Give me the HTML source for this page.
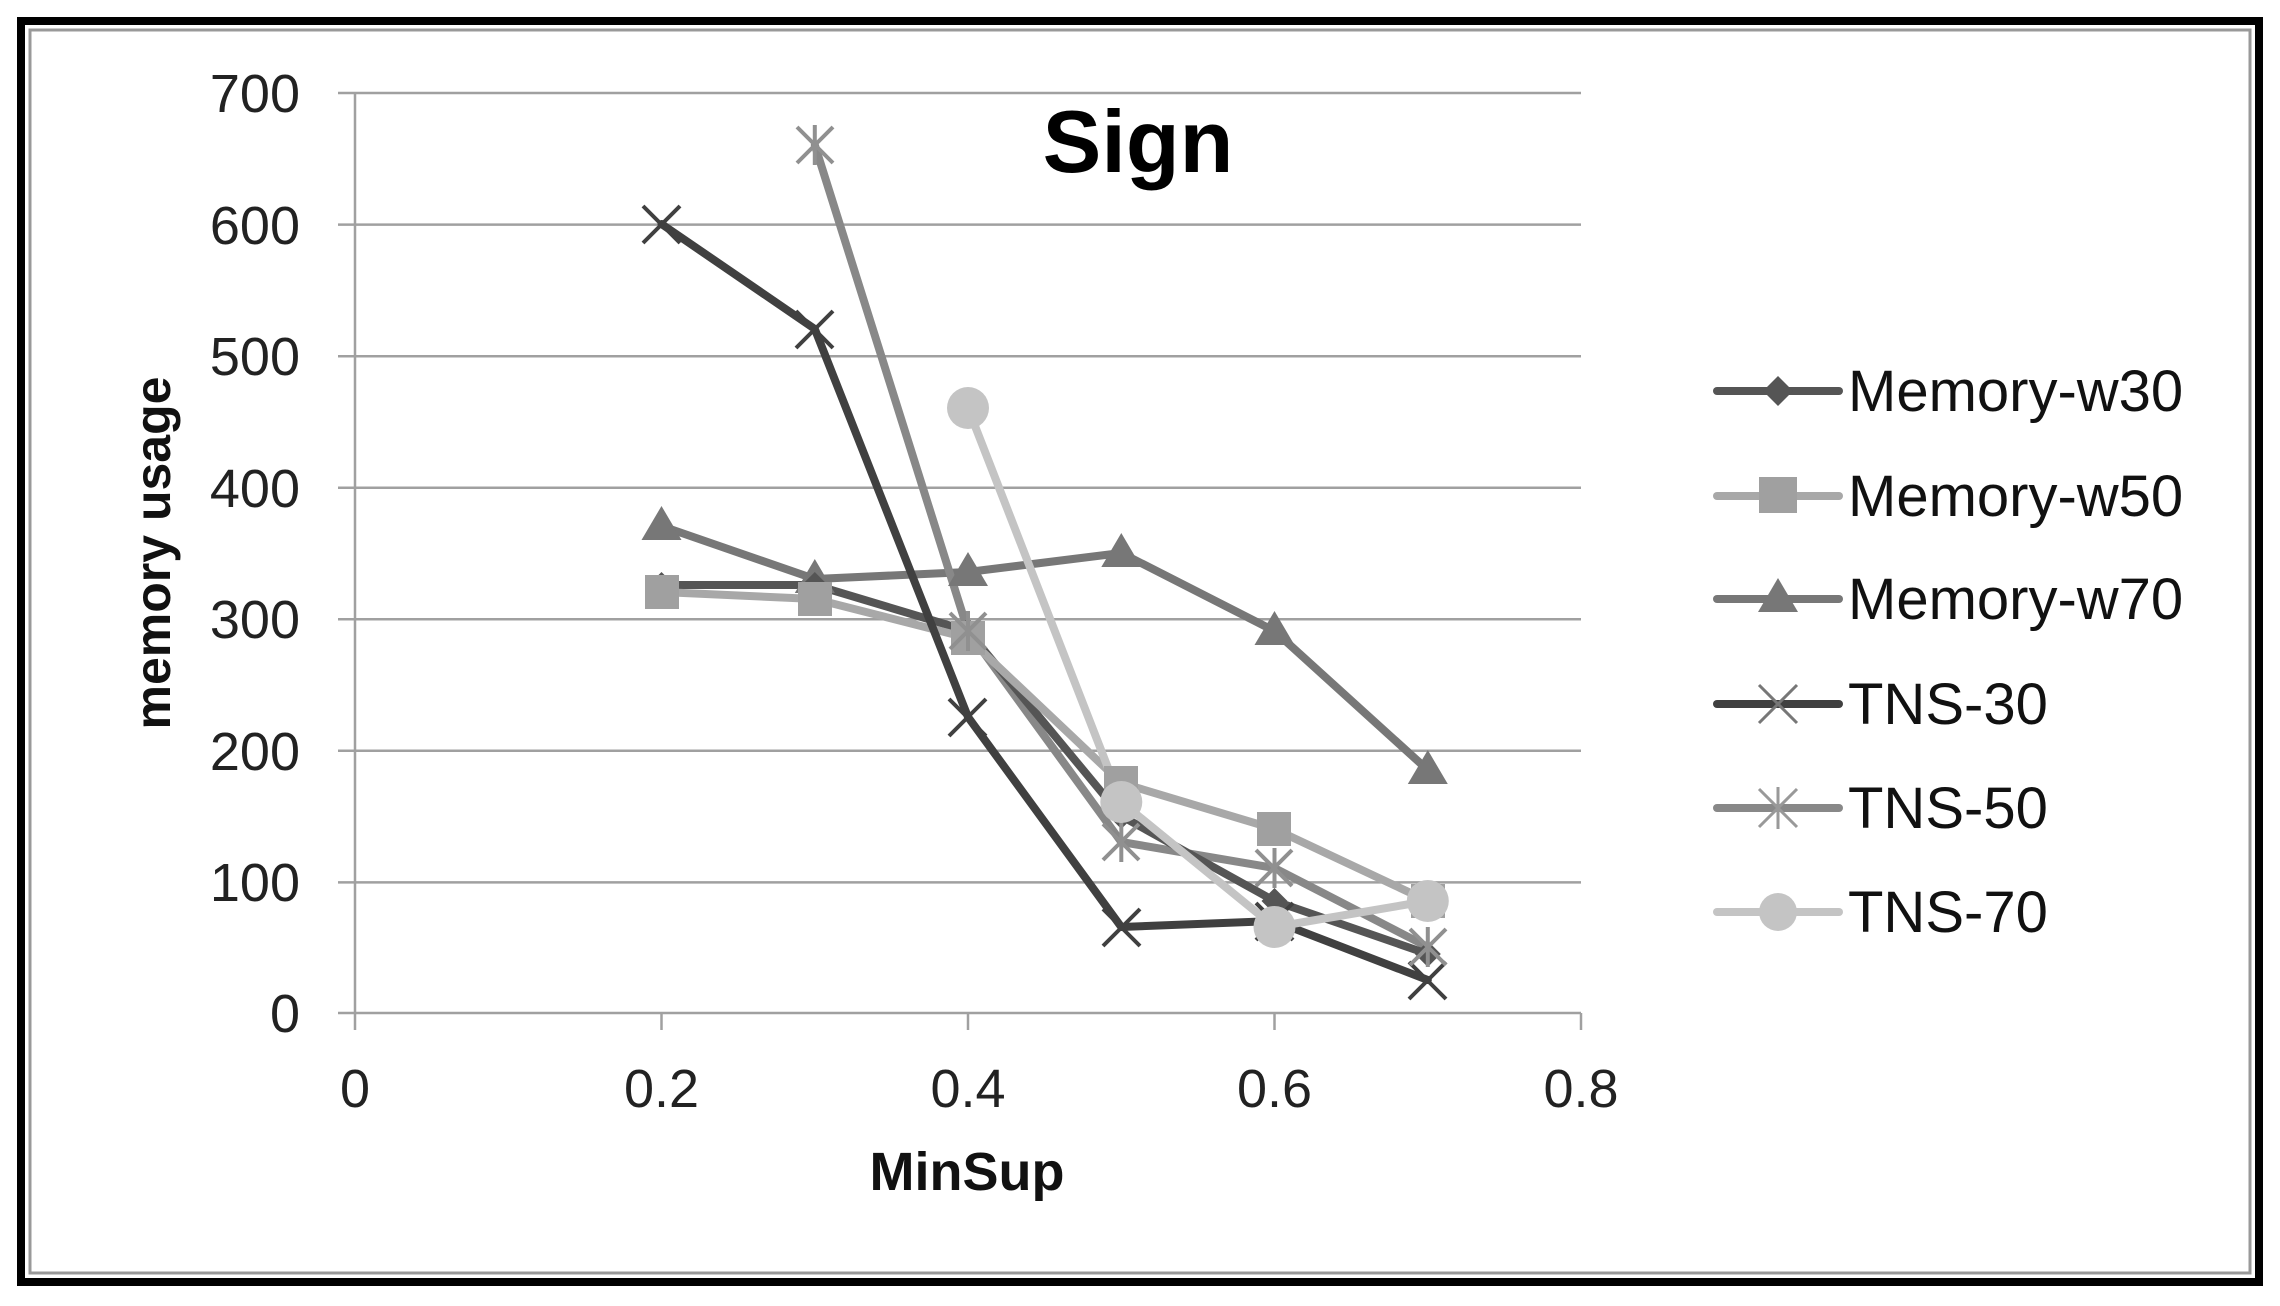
<!DOCTYPE html>
<html><head><style>html,body{margin:0;padding:0;background:#fff}svg{display:block}</style></head>
<body>
<svg width="2280" height="1306" viewBox="0 0 2280 1306" xmlns="http://www.w3.org/2000/svg" font-family="Liberation Sans, sans-serif">
<rect x="0" y="0" width="2280" height="1306" fill="#fff"/>
<rect x="21" y="21" width="2238" height="1261" fill="none" stroke="#000" stroke-width="8"/>
<rect x="30" y="30" width="2220" height="1243" fill="none" stroke="#999" stroke-width="3"/>
<g stroke="#a0a0a0" stroke-width="2.5">
<line x1="338" y1="93" x2="1581" y2="93"/>
<line x1="338" y1="224.6" x2="1581" y2="224.6"/>
<line x1="338" y1="356.2" x2="1581" y2="356.2"/>
<line x1="338" y1="487.7" x2="1581" y2="487.7"/>
<line x1="338" y1="619.3" x2="1581" y2="619.3"/>
<line x1="338" y1="750.8" x2="1581" y2="750.8"/>
<line x1="338" y1="882.4" x2="1581" y2="882.4"/>
<line x1="338" y1="1013" x2="1581" y2="1013"/>
<line x1="355" y1="93" x2="355" y2="1030"/>
<line x1="661.5" y1="1013" x2="661.5" y2="1030"/>
<line x1="968" y1="1013" x2="968" y2="1030"/>
<line x1="1274.5" y1="1013" x2="1274.5" y2="1030"/>
<line x1="1581" y1="1013" x2="1581" y2="1030"/>
</g>
<g font-size="54" fill="#222" text-anchor="end">
<text x="300" y="112">700</text><text x="300" y="244">600</text><text x="300" y="375">500</text>
<text x="300" y="507">400</text><text x="300" y="638">300</text><text x="300" y="770">200</text>
<text x="300" y="901">100</text><text x="300" y="1032">0</text>
</g>
<g font-size="54" fill="#222" text-anchor="middle">
<text x="355" y="1107">0</text><text x="661.5" y="1107">0.2</text><text x="968" y="1107">0.4</text>
<text x="1274.5" y="1107">0.6</text><text x="1581" y="1107">0.8</text>
</g>
<text x="967" y="1190" font-size="54" font-weight="bold" text-anchor="middle" fill="#111">MinSup</text>
<text transform="translate(170,553) rotate(-90)" font-size="50" font-weight="bold" text-anchor="middle" fill="#111">memory usage</text>
<text x="1138" y="172" font-size="88" font-weight="bold" text-anchor="middle" fill="#000">Sign</text>
<g fill="none" stroke-width="8" stroke-linejoin="round" stroke-linecap="round">
<polyline stroke="#777" points="661.5,526 814.8,579 968,572 1121.3,553 1274.5,631 1427.8,770"/>
<polyline stroke="#888" points="814.8,145 968,631 1121.3,842 1274.5,868 1427.8,947"/>
<polyline stroke="#555" points="661.5,585 814.8,585 968,631 1121.3,816 1274.5,901 1427.8,954"/>
<polyline stroke="#a8a8a8" points="661.5,592 814.8,599 968,638 1121.3,783 1274.5,829 1427.8,901"/>
<polyline stroke="#404040" points="661.5,224 814.8,329 968,717 1121.3,927 1274.5,921 1427.8,980"/>
<polyline stroke="#c4c4c4" points="968,408 1121.3,802 1274.5,927 1427.8,901"/>
</g>
<g fill="#777"><path d="M661.5,506 l20,34 h-40z M814.8,559 l20,34 h-40z M968,552 l20,34 h-40z M1121.3,533 l20,34 h-40z M1274.5,611 l20,34 h-40z M1427.8,750 l20,34 h-40z"/></g>
<g fill="#555"><path d="M661.5,572 l13,13 -13,13 -13,-13z M814.8,572 l13,13 -13,13 -13,-13z M968,618 l13,13 -13,13 -13,-13z M1121.3,803 l13,13 -13,13 -13,-13z M1274.5,888 l13,13 -13,13 -13,-13z M1427.8,941 l13,13 -13,13 -13,-13z"/></g>
<g fill="#a0a0a0">
<rect x="645" y="575" width="34" height="34"/><rect x="798" y="582" width="34" height="34"/><rect x="951" y="621" width="34" height="34"/>
<rect x="1104" y="766" width="34" height="34"/><rect x="1257" y="812" width="34" height="34"/><rect x="1411" y="884" width="34" height="34"/></g>
<g stroke="#404040" stroke-width="4">
<path d="M643,206 l37,37 M680,206 l-37,37 M796,311 l37,37 M833,311 l-37,37 M949,699 l37,37 M986,699 l-37,37 M1103,909 l37,37 M1140,909 l-37,37 M1256,903 l37,37 M1293,903 l-37,37 M1409,962 l37,37 M1446,962 l-37,37"/></g>
<g stroke="#909090" stroke-width="4">
<path d="M797,127 l36,36 M833,127 l-36,36 M814.8,125 v40 M950,613 l36,36 M986,613 l-36,36 M968,611 v40 M1103,824 l36,36 M1139,824 l-36,36 M1121.3,822 v40 M1256,850 l36,36 M1292,850 l-36,36 M1274.5,848 v40 M1410,929 l36,36 M1446,929 l-36,36 M1427.8,927 v40"/></g>
<g fill="#c4c4c4"><circle cx="968" cy="408" r="21"/><circle cx="1121.3" cy="802" r="21"/><circle cx="1274.5" cy="927" r="21"/><circle cx="1427.8" cy="901" r="21"/></g>
<g stroke-width="8" stroke-linecap="round">
<line x1="1717" y1="391" x2="1839" y2="391" stroke="#555"/>
<line x1="1717" y1="496" x2="1839" y2="496" stroke="#a8a8a8"/>
<line x1="1717" y1="599" x2="1839" y2="599" stroke="#777"/>
<line x1="1717" y1="704" x2="1839" y2="704" stroke="#404040"/>
<line x1="1717" y1="808" x2="1839" y2="808" stroke="#888"/>
<line x1="1717" y1="912" x2="1839" y2="912" stroke="#c4c4c4"/>
</g>
<path d="M1778,376 l15,15 -15,15 -15,-15z" fill="#555"/>
<rect x="1759" y="477" width="38" height="36" fill="#a0a0a0"/>
<path d="M1778,578 l20,34 h-40z" fill="#777"/>
<path d="M1759,685 l38,38 M1797,685 l-38,38" stroke="#777" stroke-width="3"/>
<path d="M1759,789 l38,38 M1797,789 l-38,38 M1778,787 v42" stroke="#999" stroke-width="3"/>
<circle cx="1778" cy="912" r="19" fill="#c4c4c4"/>
<g font-size="58" fill="#111">
<text x="1848" y="411">Memory-w30</text><text x="1848" y="516">Memory-w50</text><text x="1848" y="619">Memory-w70</text>
<text x="1848" y="724">TNS-30</text><text x="1848" y="828">TNS-50</text><text x="1848" y="932">TNS-70</text>
</g>
</svg>
</body></html>
